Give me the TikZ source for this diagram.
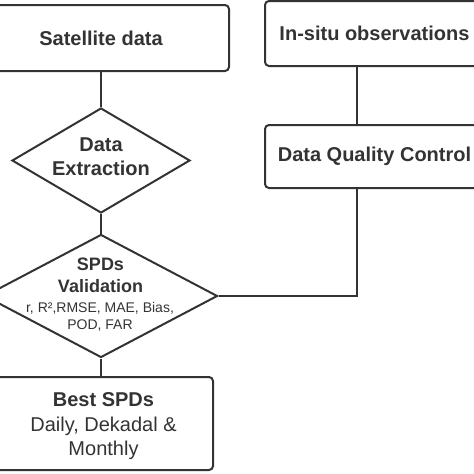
\documentclass[tikz,border=0pt]{standalone}
\usepackage{fontspec}
\setmainfont{Liberation Sans}
\usetikzlibrary{shapes.geometric}
\definecolor{ink}{HTML}{333333}
\begin{document}
\begin{tikzpicture}[x=1pt,y=-1pt,
  box/.style={draw=ink, line width=2pt, rounded corners=4pt, inner sep=0pt, align=center, text=ink},
  dia/.style={draw=ink, line width=2pt, diamond, inner sep=0pt},
  lbl/.style={align=center, text=ink, inner sep=0pt},
  conn/.style={draw=ink, line width=2pt},
  bigb/.style={font=\fontsize{20}{24}\selectfont\bfseries},
  midb/.style={font=\fontsize{18}{22}\selectfont\bfseries},
  bigr/.style={font=\fontsize{20}{24}\selectfont},
  smallr/.style={font=\fontsize{14}{17}\selectfont}
]
\useasboundingbox (0,0) rectangle (474,474);
\clip (0,0) rectangle (474,474);

% left column
\node[box, bigb, minimum width=256pt, minimum height=66pt] (sat) at (101,38) {Satellite data};
\node[dia, minimum width=178pt, minimum height=105pt] (de) at (101,160.5) {};
\node[lbl, bigb] (detext) at (101,157) {Data\\Extraction};
\node[dia, minimum width=233pt, minimum height=123pt] (spd) at (101,296) {};
\node[lbl, midb] (spdtitle) at (100.5,275) {SPDs\\Validation};
\node[lbl, smallr] (spdmetrics) at (100,316.5) {r, R²,RMSE, MAE, Bias,\\POD, FAR};
\node[box, minimum width=220pt, minimum height=93pt] (best) at (103,423.5) {};
\node[lbl, bigb] (besttitle) at (103.5,400) {Best SPDs};
\node[lbl, bigr] (bestsub) at (103.5,438) {Daily, Dekadal \&\\Monthly};

% right column
\node[box, bigb, minimum width=219pt, minimum height=65pt] (insitu) at (374.5,33.5) {In-situ observations};
\node[box, bigb, minimum width=219pt, minimum height=63pt] (dqc) at (374.5,156.5) {Data Quality Control};
\coordinate (cx) at (357,0);

% connectors
\draw[conn] (sat.south) -- (de.north);
\draw[conn] (de.south) -- (spd.north);
\draw[conn] (spd.south) -- (spd.south |- best.north);
\draw[conn] (insitu.south -| cx) -- (dqc.north -| cx);
\draw[conn] (dqc.south -| cx) |- (spd.east);
\end{tikzpicture}
\end{document}
